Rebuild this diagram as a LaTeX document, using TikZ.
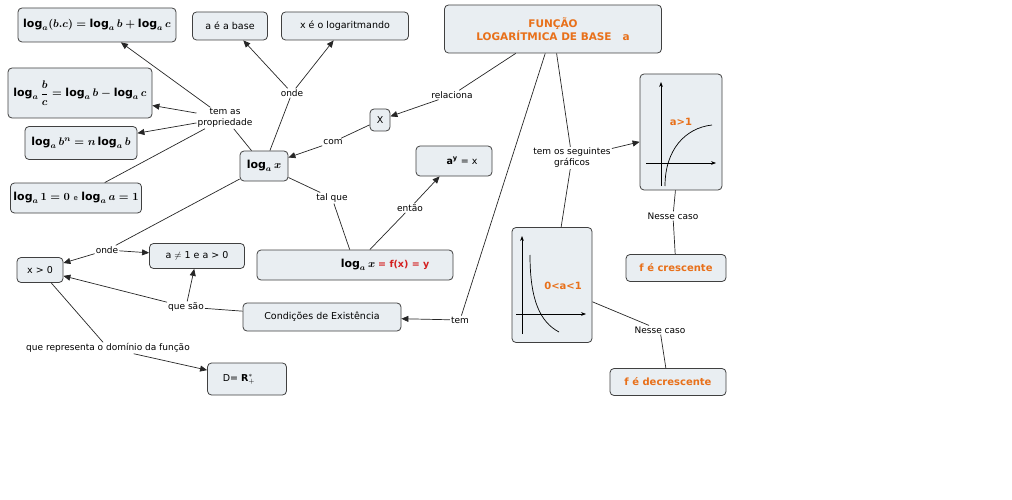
\documentclass[tikz,border=0pt]{standalone}
\usepackage{fontspec}
\setmainfont{DejaVu Sans}
\usetikzlibrary{arrows.meta}
\definecolor{boxfill}{HTML}{E9EEF2}
\definecolor{org}{HTML}{E8701A}
\definecolor{rd}{HTML}{D42020}
\begin{document}
\begin{tikzpicture}[x=1pt,y=-1pt,
  box/.style={draw=black!75,fill=boxfill,rounded corners=4pt,line width=0.8pt,font=\fontsize{9.5}{11}\selectfont,inner sep=3pt},
  lbl/.style={font=\fontsize{9}{11}\selectfont,fill=white,inner sep=1pt,align=center},
  ln/.style={draw=black!85,line width=0.7pt},
  ar/.style={ln,-{Triangle[length=7pt,width=6pt]}},
  mth/.style={font=\fontsize{11}{13}\selectfont\boldmath}]
\useasboundingbox (0,0) rectangle (1012,500);
% nodes
\node[box,minimum width=158,minimum height=34,mth] (e1) at (97,25) {$\log_a(b.c)=\log_a b+\log_a c$};
\node[box,minimum width=75,minimum height=28] (ab) at (230,26) {a é a base};
\node[box,minimum width=127,minimum height=28] (xl) at (345,26) {x é o logaritmando};
\node[box,minimum width=217,minimum height=48,text=org,font=\fontsize{10.5}{13}\selectfont\bfseries,align=center] (t) at (553,29) {FUNÇÃO\\LOGARÍTMICA DE BASE\ \ \ a};
\node[box,minimum width=144,minimum height=50,mth] (e2) at (80,93) {$\displaystyle\log_a\frac{b}{c}=\log_a b-\log_a c$};
\node[box,minimum width=112,minimum height=33,mth] (e3) at (81,143) {$\log_a b^n=n\log_a b$};
\node[box,minimum width=131,minimum height=30,mth] (e4) at (76,198) {$\log_a 1=0$ {\fontsize{7}{8}\selectfont\mdseries e} $\log_a a=1$};
\node[box,minimum width=48,minimum height=30,mth] (lx) at (264,166) {$\log_a x$};
\node[box,minimum width=20,minimum height=22,inner sep=2pt] (X) at (380,120) {X};
\node[box,minimum width=76,minimum height=30] (ay) at (454,161) {\hspace*{16pt}$\mathbf{a}^{\mathbf{y}}$ = x};
\node[box,minimum width=46,minimum height=25] (x0) at (40,270) {x > 0};
\node[box,minimum width=95,minimum height=25] (a1) at (197,256) {a $\neq$ 1 e a > 0};
\node[box,minimum width=196,minimum height=30] (fx) at (355,265) {\hspace*{60pt}{\boldmath\fontsize{11}{13}\selectfont$\log_a x$}\ {\color{rd}\bfseries = f(x) = y}};
\node[box,minimum width=158,minimum height=28] (ce) at (322,317) {Condições de Existência};
\node[box,minimum width=79,minimum height=32,align=left] (D) at (247,379) {D= $\mathbf{R}_+^{*}$\hspace*{16pt}};
\node[box,minimum width=82,minimum height=116] (g1) at (681,132) {};
\node[box,minimum width=80,minimum height=115] (g2) at (552,285) {};
\node[box,minimum width=100,minimum height=27,text=org,font=\fontsize{10}{12}\selectfont\bfseries] (fc) at (676,268) {f é crescente};
\node[box,minimum width=116,minimum height=27,text=org,font=\fontsize{10}{12}\selectfont\bfseries] (fd) at (668,382) {f é decrescente};
% graph contents
\draw[-{Stealth[length=5pt]},line width=0.7pt] (661,186) -- (661,82);
\draw[-{Stealth[length=5pt]},line width=0.7pt] (646,163) -- (716,163);
\draw[line width=0.7pt] (665,186) .. controls (665,150) and (685,128) .. (712,125);
\node[text=org,font=\fontsize{10}{12}\selectfont\bfseries] (l1) at (681,122) {a>1};
\draw[-{Stealth[length=5pt]},line width=0.7pt] (522,334) -- (522,236);
\draw[-{Stealth[length=5pt]},line width=0.7pt] (516,314) -- (586,314);
\draw[line width=0.7pt] (530,255) .. controls (530,300) and (540,322) .. (559,332);
\node[text=org,font=\fontsize{10}{12}\selectfont\bfseries] (l2) at (563,286) {0<a<1};
% labels
\node[lbl] (tp) at (225,118) {tem as\\propriedade};
\node[lbl] (on1) at (292,93) {onde};
\node[lbl] (com) at (333,142) {com};
\node[lbl] (rel) at (452,95) {relaciona};
\node[lbl] (tq) at (332,198) {tal que};
\node[lbl] (ent) at (410,208) {então};
\node[lbl] (on2) at (107,250) {onde};
\node[lbl] (qs) at (186,307) {que são};
\node[lbl] (tem) at (460,320) {tem};
\node[lbl] (qr) at (108,348) {que representa o domínio da função};
\node[lbl] (tg) at (572,158) {tem os seguintes\\gráficos};
\node[lbl] (n1) at (673,216) {Nesse caso};
\node[lbl] (n2) at (660,330) {Nesse caso};
% connectors
\draw[ln] (lx) -- (tp);
\draw[ar] (tp) -- (e1);
\draw[ar] (tp) -- (e2);
\draw[ar] (tp) -- (e3);
\draw[ln] (tp) -- (e4);
\draw[ln] (lx) -- (on1);
\draw[ar] (on1) -- (ab);
\draw[ar] (on1) -- (xl);
\draw[ln] (t) -- (rel);
\draw[ar] (rel) -- (X);
\draw[ln] (X) -- (com);
\draw[ar] (com) -- (lx);
\draw[ln] (lx) -- (tq);
\draw[ln] (tq) -- (fx);
\draw[ln] (fx) -- (ent);
\draw[ar] (ent) -- (ay);
\draw[ln] (lx) -- (on2);
\draw[ar] (on2) -- (x0);
\draw[ar] (on2) -- (a1);
\draw[ln] (ce) -- (qs);
\draw[ar] (qs) -- (x0);
\draw[ar] (qs) -- (a1);
\draw[ln] (t) -- (tem);
\draw[ar] (tem) -- (ce);
\draw[ln] (x0) -- (qr);
\draw[ar] (qr) -- (D);
\draw[ln] (t) -- (tg);
\draw[ar] (tg) -- (g1);
\draw[ln] (tg) -- (g2);
\draw[ln] (g1) -- (n1);
\draw[ln] (n1) -- (fc);
\draw[ln] (g2) -- (n2);
\draw[ln] (n2) -- (fd);
\end{tikzpicture}
\end{document}
